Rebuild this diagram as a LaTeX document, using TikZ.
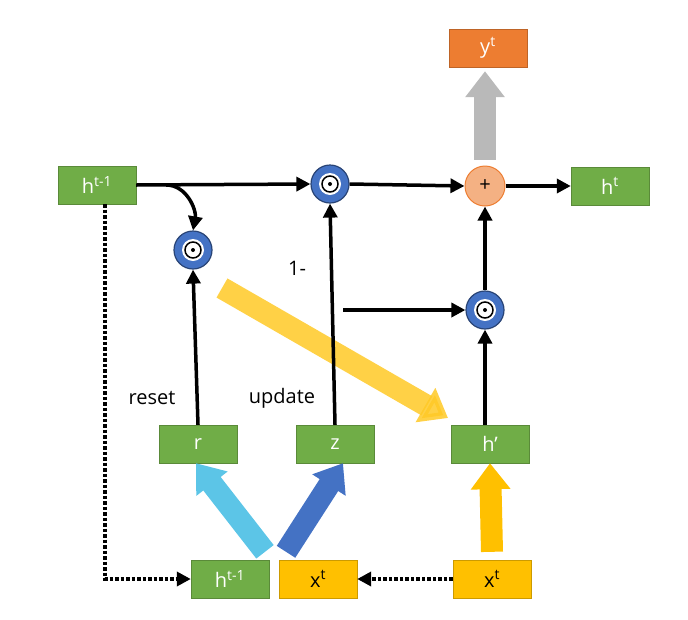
\documentclass[tikz,border=0pt]{standalone}
\usepackage{fontspec}
\setmainfont{Open Sans}
\usetikzlibrary{arrows.meta,calc}
\definecolor{grn}{HTML}{70AD47}
\definecolor{org}{HTML}{ED7D31}
\definecolor{ylw}{HTML}{FFC000}
\definecolor{blu}{HTML}{4472C4}
\definecolor{sal}{HTML}{F4B183}
\begin{document}
\begin{tikzpicture}[x=1pt,y=-1pt,
 tf/.style={font=\fontsize{20}{24}\selectfont},
 box/.style={tf,draw=grn!80!black,fill=grn,text=white,minimum width=78pt,minimum height=38pt},
 ybox/.style={box,draw=ylw!80!black,fill=ylw,text=black},
 odot/.style={circle,draw=blu!60!black,line width=1.2pt,fill=blu,minimum size=38pt,inner sep=0pt,
   path picture={\fill[white] (path picture bounding box.center) circle (11pt);
   \draw[black,line width=1.5pt] (path picture bounding box.center) circle (8pt);
   \fill[black] (path picture bounding box.center) circle (2pt);}},
 ar/.style={-{Triangle[length=14pt,width=14pt]},line width=3.5pt},
 dt/.style={ar,dotted,line width=4pt},
 fat/.style={-{Triangle[length=26pt,width=38pt]},line width=22pt}]
\useasboundingbox (0,0) rectangle (688,619);
\node[box,draw=org!80!black,fill=org] (y) at (488,48) {y\textsuperscript{t}};
\node[box] (hp) at (97,185) {h\textsuperscript{t-1}};
\node[odot] (o1) at (330,184) {};
\node[tf,circle,draw=org,line width=1pt,fill=sal,minimum size=40pt,inner sep=0pt] (pl) at (485,186) {+};
\node[box] (ht) at (610,186) {h\textsuperscript{t}};
\node[odot] (o2) at (193,250) {};
\node[odot] (o3) at (485,310) {};
\node[box] (r) at (198,444) {r};
\node[box] (z) at (335,444) {z};
\node[box] (hh) at (490,444) {h'};
\node[box] (hb) at (230,579) {h\textsuperscript{t-1}};
\node[ybox] (x1) at (318,579) {x\textsuperscript{t}};
\node[ybox] (x2) at (492,579) {x\textsuperscript{t}};
\node[tf] (l1) at (297,268) {1-};
\node[tf] (lr) at (152,398) {reset};
\node[tf] (lu) at (282,398) {update};
\coordinate (jz) at (335,310);
\coordinate (dc) at (105,579);
% fat arrows
\draw[fat,gray!55] ($(pl.north)+(0,-6)$) -- ($(y.south)+(-3,4)$);
\draw[fat,ylw!85!white,opacity=.85] (222,288) -- (448,418);
\draw[fat,blu!55!cyan!75!white] ($(hb.north)+(35,-8)$) -- ($(r.south)+(-2,0)$);
\draw[fat,blu] ($(hb.north)+(56,-8)$) -- ($(z.south)+(8,0)$);
\draw[fat,ylw] ($(x2.north)+(0,-8)$) -- (hh.south);
% connectors
\draw[ar] (hp.east) -- (o1.west);
\draw[ar] (hp.east) ++(30,0) to[out=0,in=80] (o2.north);
\draw[ar] (o1.east) -- (pl.west);
\draw[ar] (pl.east) -- (ht.west);
\draw[ar] (r.north) -- (o2.south);
\draw[ar] (z.north) -- (o1.south);
\draw[ar] (jz) ++(8,0) -- (o3.west);
\draw[ar] (o3.north) -- (pl.south);
\draw[ar] (hh.north) ++(-5,0) -- (o3.south);
\draw[dt] ($(hp.south)+(8,0)$) -- (dc) -- (hb.west);
\draw[dt] (x2.west) -- (x1.east);
\end{tikzpicture}
\end{document}
